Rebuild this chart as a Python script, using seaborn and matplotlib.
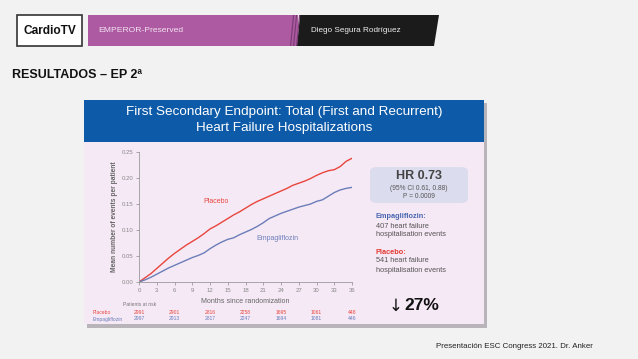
import numpy as np
import pandas as pd
import matplotlib
matplotlib.use("Agg")
import matplotlib.pyplot as plt
import seaborn as sns
from matplotlib.patches import Rectangle, FancyBboxPatch, Polygon

# data (months 0..36)
months = list(range(37))
placebo = [0.000, 0.008, 0.016, 0.026, 0.036, 0.046, 0.055, 0.063, 0.071, 0.078,
           0.085, 0.093, 0.102, 0.108, 0.115, 0.122, 0.129, 0.135, 0.142, 0.149,
           0.155, 0.160, 0.165, 0.170, 0.175, 0.180, 0.186, 0.190, 0.194, 0.199,
           0.205, 0.210, 0.214, 0.216, 0.222, 0.232, 0.238]
empa = [0.000, 0.004, 0.009, 0.015, 0.021, 0.027, 0.032, 0.037, 0.042, 0.047,
        0.051, 0.056, 0.064, 0.071, 0.077, 0.082, 0.085, 0.091, 0.096, 0.101,
        0.107, 0.114, 0.122, 0.127, 0.132, 0.136, 0.140, 0.144, 0.147, 0.150,
        0.155, 0.158, 0.165, 0.172, 0.177, 0.180, 0.182]

risk_months = [0, 6, 12, 18, 24, 30, 36]
risk_placebo = [2991, 2901, 2816, 2258, 1695, 1061, 448]
risk_empa = [2997, 2913, 2817, 2247, 1694, 1081, 446]

RED = "#e8453c"
BLUE = "#6b7db8"
W, H = 638, 359

sns.set_theme(style="white")
plt.rcParams['font.family'] = ['Liberation Sans', 'DejaVu Sans']

fig = plt.figure(figsize=(W / 100, H / 100), dpi=100)
fig.patch.set_facecolor("#f2f2f2")


def fx(px):
    return px / W


def fy(py):
    return 1 - py / H


def rect(x0, y0, x1, y1, **kw):
    fig.add_artist(Rectangle((fx(x0), fy(y1)), fx(x1) - fx(x0), fy(y0) - fy(y1),
                             transform=fig.transFigure, zorder=-5, **kw))


# header
rect(17, 15, 82, 46, facecolor="white", edgecolor="#333333", linewidth=1.2)
fig.text(fx(49.5), fy(31), "CardioTV", ha="center", va="center", fontsize=8.6,
         fontweight="bold", color="#111111")
rect(88, 15, 298, 46, facecolor="#ad5aa3", edgecolor="none")
fig.add_artist(Polygon([(fx(300), fy(15)), (fx(439), fy(15)), (fx(434), fy(46)),
                        (fx(297), fy(46))], closed=True, transform=fig.transFigure,
                       facecolor="#1b1b1b", edgecolor="none", zorder=-4))
for sx in (291, 294, 297):
    fig.add_artist(Polygon([(fx(sx + 2), fy(15)), (fx(sx + 3.2), fy(15)),
                            (fx(sx + 0.2), fy(46)), (fx(sx - 1), fy(46))],
                           closed=True, transform=fig.transFigure,
                           facecolor="#7a3d74", edgecolor="none", zorder=-3))
fig.text(fx(98), fy(31), "EMPEROR-Preserved", ha="left", va="center",
         fontsize=6.1, color="#f3e3f0")
fig.text(fx(311), fy(31), "Diego Segura Rodríguez", ha="left", va="center",
         fontsize=5.9, color="#eeeeee")
fig.text(fx(12), fy(75), "RESULTADOS – EP 2ª", ha="left", va="center",
         fontsize=9, fontweight="bold", color="#111111")

# chart panel with shadow
rect(87, 103, 487, 328, facecolor="#b9b4b9", edgecolor="none")
rect(84, 100, 484, 324, facecolor="#f6e9f6", edgecolor="none")
rect(84, 100, 484, 142, facecolor="#0d5aa8", edgecolor="none")
fig.text(fx(284), fy(112), "First Secondary Endpoint: Total (First and Recurrent)",
         ha="center", va="center", fontsize=9.7, color="white")
fig.text(fx(284), fy(128), "Heart Failure Hospitalizations",
         ha="center", va="center", fontsize=9.7, color="white")

# plot axes
ax = fig.add_axes([fx(139), fy(282), fx(352) - fx(139), fy(152) - fy(282)])
ax.set_zorder(5)
ax.set_facecolor("none")
df = pd.DataFrame({
    "Months": months * 2,
    "Mean": placebo + empa,
    "Group": ["Placebo"] * len(months) + ["Empagliflozin"] * len(months),
})
sns.lineplot(data=df, x="Months", y="Mean", hue="Group",
             palette={"Placebo": RED, "Empagliflozin": BLUE},
             linewidth=1.0, legend=False, ax=ax)
ax.set_xlim(0, 36)
ax.set_ylim(0, 0.25)
ax.set_xticks(range(0, 37, 3))
ax.set_yticks(np.arange(0, 0.26, 0.05))
ax.set_yticklabels([f"{v:.2f}" for v in np.arange(0, 0.26, 0.05)])
for s in ("top", "right"):
    ax.spines[s].set_visible(False)
for s in ("left", "bottom"):
    ax.spines[s].set_color("#999999")
    ax.spines[s].set_linewidth(0.6)
ax.tick_params(axis="both", labelsize=4.3, colors="#888888", length=2,
               width=0.5, pad=2, direction="out", left=True, bottom=True)
ax.set_xlabel("Months since randomization", fontsize=5, color="#666666", labelpad=4)
ax.set_ylabel("Mean number of events per patient", fontsize=4.8,
              color="#666666", fontweight="bold", labelpad=3)
ax.text(13, 0.154, "Placebo", color=RED, fontsize=5, ha="center", va="center")
ax.text(23.4, 0.083, "Empagliflozin", color=BLUE, fontsize=5, ha="center", va="center")

# patients at risk
fig.text(fx(123), fy(304), "Patients at risk", fontsize=3.6, color="#777777",
         ha="left", va="center")
fig.text(fx(93), fy(313), "Placebo", fontsize=3.6, color=RED, ha="left", va="center")
fig.text(fx(93), fy(319), "Empagliflozin", fontsize=3.6, color=BLUE, ha="left",
         va="center")
for m, p, e in zip(risk_months, risk_placebo, risk_empa):
    xp = ax.transData.transform((m, 0))[0] / fig.bbox.width
    fig.text(xp, fy(313), str(p), fontsize=3.6, color=RED, ha="center", va="center")
    fig.text(xp, fy(319), str(e), fontsize=3.6, color=BLUE, ha="center", va="center")

# right-hand summary
fig.add_artist(FancyBboxPatch((fx(370), fy(203)), fx(468) - fx(370), fy(167) - fy(203),
                              boxstyle="round,pad=0,rounding_size=0.012",
                              transform=fig.transFigure, facecolor="#dcdcef",
                              edgecolor="none", zorder=-2))
fig.text(fx(419), fy(176), "HR 0.73", fontsize=9, fontweight="bold",
         color="#444444", ha="center", va="center")
fig.text(fx(419), fy(188), "(95% CI 0.61, 0.88)", fontsize=4.8,
         color="#555555", ha="center", va="center")
fig.text(fx(419), fy(196), "P = 0.0009", fontsize=4.8,
         color="#555555", ha="center", va="center")
fig.text(fx(376), fy(217), "Empagliflozin:", fontsize=5.3, fontweight="bold",
         color="#4a66b0", ha="left", va="center")
fig.text(fx(376), fy(226), "407 heart failure", fontsize=5.3, color="#555555",
         ha="left", va="center")
fig.text(fx(376), fy(235), "hospitalisation events", fontsize=5.3, color="#555555",
         ha="left", va="center")
fig.text(fx(376), fy(252), "Placebo:", fontsize=5.3, fontweight="bold",
         color="#e33a30", ha="left", va="center")
fig.text(fx(376), fy(261), "541 heart failure", fontsize=5.3, color="#555555",
         ha="left", va="center")
fig.text(fx(376), fy(270), "hospitalisation events", fontsize=5.3, color="#555555",
         ha="left", va="center")
fig.text(fx(389), fy(306), "↓", fontsize=12, color="#111111", ha="left", va="center",
         family=["DejaVu Sans"])
fig.text(fx(404), fy(306), "27%", fontsize=12.5, fontweight="bold", color="#111111",
         ha="left", va="center")

# footer
fig.text(fx(593), fy(346), "Presentación ESC Congress 2021. Dr. Anker", fontsize=5.7,
         color="#222222", ha="right", va="center")

fig.savefig("out.png", dpi=100, facecolor=fig.get_facecolor())
